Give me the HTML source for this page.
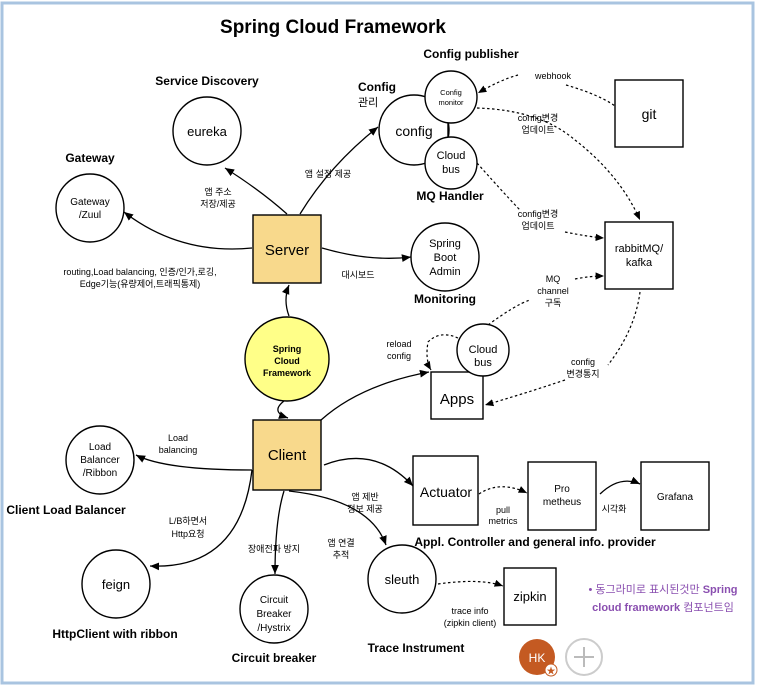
<!DOCTYPE html>
<html><head><meta charset="utf-8"><style>
body{margin:0;background:#fff}
svg{display:block;font-family:"Liberation Sans","Noto Sans CJK KR",sans-serif}
.b{font-weight:bold;font-size:12px}
.s{font-size:9px}
</style></head><body>
<svg width="759" height="685" viewBox="0 0 759 685">
<defs>
<marker id="a" markerWidth="8" markerHeight="8" refX="7" refY="4" orient="auto"><path d="M0,1 L7,4 L0,7 Z" fill="#000"/></marker>
</defs>
<rect x="2" y="3" width="751" height="680" fill="#fff" stroke="#a9c4e0" stroke-width="3"/>
<text x="333" y="33" font-size="19" font-weight="bold" text-anchor="middle">Spring Cloud Framework</text>

<g fill="none" stroke="#000" stroke-width="1.3">
<path d="M287,214 Q260,190 225,168" marker-end="url(#a)"/>
<path d="M252,248 Q180,255 124,212" marker-end="url(#a)"/>
<path d="M300,214 Q330,165 378,127" marker-end="url(#a)"/>
<path d="M322,248 Q370,262 411,257" marker-end="url(#a)"/>
<path d="M289,316 Q283,300 289,285" marker-end="url(#a)"/>
<path d="M284,401 Q270,412 288,418" marker-end="url(#a)"/>
<path d="M321,420 Q360,385 429,372" marker-end="url(#a)"/>
<path d="M252,470 Q165,470 136,455" marker-end="url(#a)"/>
<path d="M252,470 Q240,570 150,566" marker-end="url(#a)"/>
<path d="M284,491 Q275,520 275,574" marker-end="url(#a)"/>
<path d="M289,491 Q370,500 386,545" marker-end="url(#a)"/>
<path d="M324,465 Q375,445 413,486" marker-end="url(#a)"/>
<path d="M600,494 Q620,475 640,484" marker-end="url(#a)"/>
</g>
<g fill="none" stroke="#000" stroke-width="1.2" stroke-dasharray="2.5,2.5">
<path d="M518,75 Q500,80 478,93" marker-end="url(#a)"/>
<path d="M566,85 Q600,95 615,106"/>
<path d="M477,108 Q540,110 575,140 Q620,175 640,220" marker-end="url(#a)"/>
<path d="M477,163 Q510,200 520,210"/>
<path d="M565,232 Q590,237 604,238" marker-end="url(#a)"/>
<path d="M575,279 Q590,276 604,276" marker-end="url(#a)"/>
<path d="M488,325 Q515,305 530,300"/>
<path d="M640,292 Q635,330 608,365"/>
<path d="M565,380 Q520,395 485,405" marker-end="url(#a)"/>
<path d="M458,338 Q440,330 428,342 Q425,360 431,370" marker-end="url(#a)"/>
<path d="M479,494 Q500,480 527,493" marker-end="url(#a)"/>
<path d="M438,584 Q480,578 503,586" marker-end="url(#a)"/>
</g>

<g fill="#fff" stroke="#000" stroke-width="1.4">
<circle cx="207" cy="131" r="34"/>
<circle cx="90" cy="208" r="34"/>
<circle cx="414" cy="130" r="35"/>
<line x1="448" y1="118" x2="448" y2="140"/>
<circle cx="451" cy="97" r="26"/>
<circle cx="451" cy="163" r="26"/>
<circle cx="445" cy="257" r="34"/>
<rect x="615" y="80" width="68" height="67"/>
<rect x="605" y="222" width="68" height="67"/>
<rect x="431" y="372" width="52" height="47"/>
<circle cx="483" cy="350" r="26"/>
<circle cx="100" cy="460" r="34"/>
<circle cx="116" cy="584" r="34"/>
<circle cx="274" cy="609" r="34"/>
<circle cx="402" cy="579" r="34"/>
<rect x="504" y="568" width="52" height="57"/>
<rect x="413" y="456" width="65" height="69"/>
<rect x="528" y="462" width="68" height="68"/>
<rect x="641" y="462" width="68" height="68"/>
<rect x="253" y="215" width="68" height="68" fill="#f8d98c"/>
<rect x="253" y="420" width="68" height="70" fill="#f8d98c"/>
<circle cx="287" cy="359" r="42" fill="#ffff88"/>
</g>

<g text-anchor="middle" font-size="13">
<text x="207" y="136">eureka</text>
<text x="90" y="205" font-size="10">Gateway</text><text x="90" y="218" font-size="10">/Zuul</text>
<text x="287" y="255" font-size="15">Server</text>
<text x="287" y="460" font-size="15">Client</text>
<text x="287" y="352" font-size="9" font-weight="bold">Spring</text>
<text x="287" y="364" font-size="9" font-weight="bold">Cloud</text>
<text x="287" y="376" font-size="9" font-weight="bold">Framework</text>
<text x="414" y="136" font-size="14">config</text>
<text x="451" y="95" font-size="7.5">Config</text><text x="451" y="105" font-size="7.5">monitor</text>
<text x="451" y="159" font-size="11">Cloud</text><text x="451" y="173" font-size="11">bus</text>
<text x="649" y="119" font-size="14">git</text>
<text x="639" y="252" font-size="11">rabbitMQ/</text><text x="639" y="266" font-size="11">kafka</text>
<text x="445" y="247" font-size="11">Spring</text><text x="445" y="261" font-size="11">Boot</text><text x="445" y="275" font-size="11">Admin</text>
<text x="483" y="353" font-size="11">Cloud</text><text x="483" y="366" font-size="11">bus</text>
<text x="457" y="404" font-size="15">Apps</text>
<text x="100" y="450" font-size="10">Load</text><text x="100" y="463" font-size="10">Balancer</text><text x="100" y="476" font-size="10">/Ribbon</text>
<text x="116" y="589" font-size="13">feign</text>
<text x="274" y="603" font-size="10">Circuit</text><text x="274" y="617" font-size="10">Breaker</text><text x="274" y="631" font-size="10">/Hystrix</text>
<text x="402" y="584" font-size="13">sleuth</text>
<text x="530" y="601" font-size="13">zipkin</text>
<text x="446" y="497" font-size="14">Actuator</text>
<text x="562" y="492" font-size="10">Pro</text><text x="562" y="505" font-size="10">metheus</text>
<text x="675" y="500" font-size="10">Grafana</text>
</g>

<g text-anchor="middle" class="b">
<text x="207" y="85">Service Discovery</text>
<text x="90" y="162">Gateway</text>
<text x="471" y="58">Config publisher</text>
<text x="450" y="200">MQ Handler</text>
<text x="445" y="303">Monitoring</text>
<text x="66" y="514">Client Load Balancer</text>
<text x="115" y="638">HttpClient with ribbon</text>
<text x="274" y="662">Circuit breaker</text>
<text x="416" y="652">Trace Instrument</text>
<text x="535" y="546">Appl. Controller and general info. provider</text>
</g>
<text x="358" y="91" class="b">Config</text>
<text x="358" y="106" font-size="11">관리</text>

<g text-anchor="middle" class="s">
<text x="218" y="195">앱 주소</text><text x="218" y="207">저장/제공</text>
<text x="328" y="177">앱 설정 제공</text>
<text x="140" y="275">routing,Load balancing, 인증/인가,로깅,</text>
<text x="140" y="287">Edge기능(유량제어,트래픽통제)</text>
<text x="358" y="278">대시보드</text>
<text x="553" y="79">webhook</text>
<text x="538" y="121">config변경</text><text x="538" y="133">업데이트</text>
<text x="538" y="217">config변경</text><text x="538" y="229">업데이트</text>
<text x="553" y="282">MQ</text><text x="553" y="294">channel</text><text x="553" y="306">구독</text>
<text x="399" y="347">reload</text><text x="399" y="359">config</text>
<text x="583" y="365">config</text><text x="583" y="377">변경통지</text>
<text x="178" y="441">Load</text><text x="178" y="453">balancing</text>
<text x="365" y="500">앱 제반</text><text x="365" y="512">정보 제공</text>
<text x="188" y="524">L/B하면서</text><text x="188" y="537">Http요청</text>
<text x="274" y="552">장애전파 방지</text>
<text x="341" y="546">앱 연결</text><text x="341" y="558">추적</text>
<text x="503" y="513">pull</text><text x="503" y="524">metrics</text>
<text x="614" y="512">시각화</text>
<text x="470" y="614">trace info</text><text x="470" y="626">(zipkin client)</text>
</g>
<text x="663" y="593" font-size="11" fill="#8a4fb0" text-anchor="middle">• 동그라미로 표시된것만 <tspan font-weight="bold">Spring</tspan></text>
<text x="663" y="611" font-size="11" fill="#8a4fb0" text-anchor="middle"><tspan font-weight="bold">cloud framework</tspan> 컴포넌트임</text>

<circle cx="537" cy="657" r="18" fill="#c45a22"/>
<text x="537" y="662" font-size="12" fill="#fff" text-anchor="middle">HK</text>
<circle cx="551" cy="670" r="6" fill="#fff" stroke="#c45a22"/>
<text x="551" y="674" font-size="9" fill="#c45a22" text-anchor="middle">★</text>
<circle cx="584" cy="657" r="18" fill="#fff" stroke="#ccc" stroke-width="2"/>
<path d="M584,647 V667 M574,657 H594" stroke="#bbb" stroke-width="2"/>
</svg>
</body></html>
